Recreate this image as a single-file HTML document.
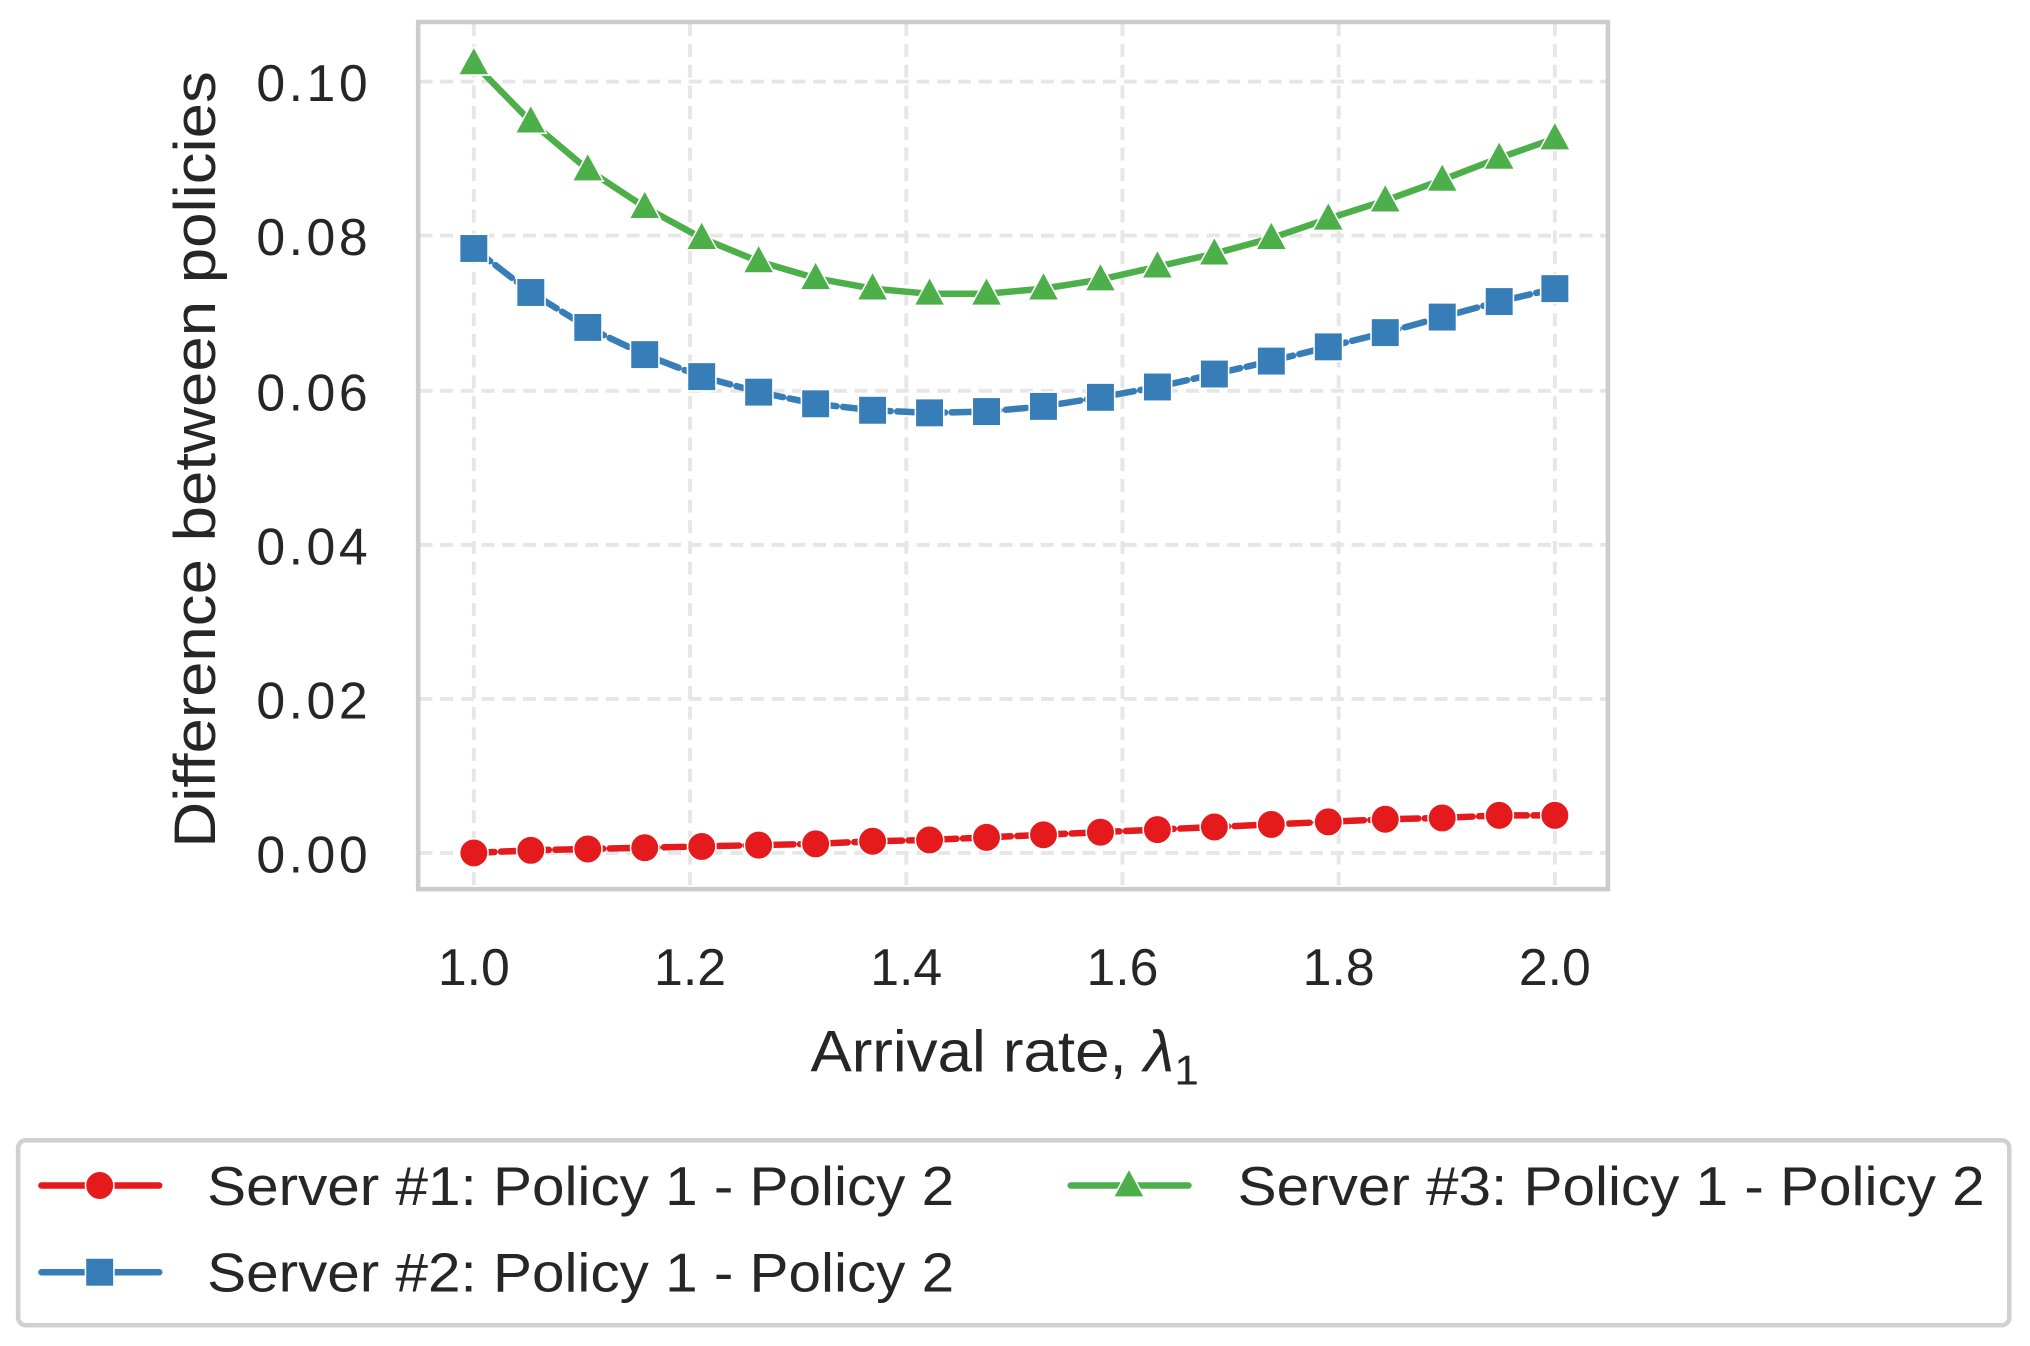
<!DOCTYPE html>
<html><head><meta charset="utf-8"><style>html,body{margin:0;padding:0;background:#fff}svg{display:block}</style></head>
<body>
<svg width="2030" height="1346" viewBox="0 0 1568 1040" preserveAspectRatio="none" xmlns="http://www.w3.org/2000/svg" font-family="'Liberation Sans',sans-serif" fill="#262626">
<defs>
<circle id="c" r="11" fill="#e41a1c" stroke="#fff" stroke-width="1.2"/>
<rect id="s" x="-11" y="-11" width="22" height="22" fill="#377eb8" stroke="#fff" stroke-width="1.2"/>
<polygon id="t" points="0,-13 12,9 -12,9" fill="#4daf4a" stroke="#fff" stroke-width="1.2"/>
</defs>
<g stroke="#e6e6e6" stroke-width="3" stroke-dasharray="10,6">
<line x1="366" y1="18" x2="366" y2="686"/><line x1="533" y1="18" x2="533" y2="686"/><line x1="700" y1="18" x2="700" y2="686"/><line x1="867" y1="18" x2="867" y2="686"/><line x1="1034" y1="18" x2="1034" y2="686"/><line x1="1201" y1="18" x2="1201" y2="686"/>
<line x1="324" y1="659" x2="1241" y2="659"/><line x1="324" y1="540" x2="1241" y2="540"/><line x1="324" y1="421" x2="1241" y2="421"/><line x1="324" y1="302" x2="1241" y2="302"/><line x1="324" y1="182" x2="1241" y2="182"/><line x1="324" y1="63" x2="1241" y2="63"/>
</g>
<rect x="323" y="17" width="919" height="670" fill="none" stroke="#cccccc" stroke-width="3.5"/>
<g font-size="40" text-anchor="end">
<text x="284" y="674" textLength="86">0.00</text><text x="284" y="555" textLength="86">0.02</text><text x="284" y="436" textLength="86">0.04</text><text x="284" y="317" textLength="86">0.06</text><text x="284" y="197" textLength="86">0.08</text><text x="284" y="78" textLength="86">0.10</text>
</g>
<g font-size="40" text-anchor="middle">
<text x="366" y="761">1.0</text><text x="533" y="761">1.2</text><text x="700" y="761">1.4</text><text x="867" y="761">1.6</text><text x="1034" y="761">1.8</text><text x="1201" y="761">2.0</text>
</g>
<text x="626" y="828" font-size="45" textLength="300" lengthAdjust="spacingAndGlyphs">Arrival rate, <tspan font-style="italic">λ</tspan><tspan font-size="32" dy="10">1</tspan></text>
<text transform="translate(166,655) rotate(-90)" font-size="45" textLength="600" lengthAdjust="spacingAndGlyphs">Difference between policies</text>
<g fill="none" stroke-width="5" stroke-linecap="round">
<polyline stroke="#4daf4a" points="366,49 410,94 454,131 498,160 542,184 586,202 630,215 674,223 718,227 762,227 806,223 850,216 894,206 938,196 982,184 1026,169 1070,155 1114,139 1158,122 1201,107"/>
<polyline stroke="#377eb8" stroke-dasharray="16,5" points="366,192 410,226 454,253 498,274 542,291 586,303 630,312 674,317 718,319 762,318 806,314 850,307 894,299 938,289 982,279 1026,268 1070,257 1114,245 1158,233 1201,223"/>
<polyline stroke="#e41a1c" stroke-dasharray="16,5" points="366,659 410,657 454,656 498,655 542,654 586,653 630,652 674,650 718,649 762,647 806,645 850,643 894,641 938,639 982,637 1026,635 1070,633 1114,632 1158,630 1201,630"/>
</g>
<g>
<use href="#t" x="366" y="49"/><use href="#t" x="410" y="94"/><use href="#t" x="454" y="131"/><use href="#t" x="498" y="160"/><use href="#t" x="542" y="184"/><use href="#t" x="586" y="202"/><use href="#t" x="630" y="215"/><use href="#t" x="674" y="223"/><use href="#t" x="718" y="227"/><use href="#t" x="762" y="227"/><use href="#t" x="806" y="223"/><use href="#t" x="850" y="216"/><use href="#t" x="894" y="206"/><use href="#t" x="938" y="196"/><use href="#t" x="982" y="184"/><use href="#t" x="1026" y="169"/><use href="#t" x="1070" y="155"/><use href="#t" x="1114" y="139"/><use href="#t" x="1158" y="122"/><use href="#t" x="1201" y="107"/>
<use href="#s" x="366" y="192"/><use href="#s" x="410" y="226"/><use href="#s" x="454" y="253"/><use href="#s" x="498" y="274"/><use href="#s" x="542" y="291"/><use href="#s" x="586" y="303"/><use href="#s" x="630" y="312"/><use href="#s" x="674" y="317"/><use href="#s" x="718" y="319"/><use href="#s" x="762" y="318"/><use href="#s" x="806" y="314"/><use href="#s" x="850" y="307"/><use href="#s" x="894" y="299"/><use href="#s" x="938" y="289"/><use href="#s" x="982" y="279"/><use href="#s" x="1026" y="268"/><use href="#s" x="1070" y="257"/><use href="#s" x="1114" y="245"/><use href="#s" x="1158" y="233"/><use href="#s" x="1201" y="223"/>
<use href="#c" x="366" y="659"/><use href="#c" x="410" y="657"/><use href="#c" x="454" y="656"/><use href="#c" x="498" y="655"/><use href="#c" x="542" y="654"/><use href="#c" x="586" y="653"/><use href="#c" x="630" y="652"/><use href="#c" x="674" y="650"/><use href="#c" x="718" y="649"/><use href="#c" x="762" y="647"/><use href="#c" x="806" y="645"/><use href="#c" x="850" y="643"/><use href="#c" x="894" y="641"/><use href="#c" x="938" y="639"/><use href="#c" x="982" y="637"/><use href="#c" x="1026" y="635"/><use href="#c" x="1070" y="633"/><use href="#c" x="1114" y="632"/><use href="#c" x="1158" y="630"/><use href="#c" x="1201" y="630"/>
</g>
<rect x="14" y="881" width="1538" height="143" rx="6" fill="#fff" stroke="#d0d0d0" stroke-width="3.5"/>
<g stroke-width="5" stroke-linecap="round">
<line x1="32" y1="916" x2="123" y2="916" stroke="#e41a1c"/>
<line x1="32" y1="983" x2="123" y2="983" stroke="#377eb8"/>
<line x1="827" y1="916" x2="918" y2="916" stroke="#4daf4a"/>
</g>
<use href="#c" x="77" y="916"/><use href="#s" x="77" y="983"/><use href="#t" x="872" y="916"/>
<g font-size="42">
<text x="160" y="931" textLength="577" lengthAdjust="spacingAndGlyphs">Server #1: Policy 1 - Policy 2</text>
<text x="160" y="998" textLength="577" lengthAdjust="spacingAndGlyphs">Server #2: Policy 1 - Policy 2</text>
<text x="956" y="931" textLength="577" lengthAdjust="spacingAndGlyphs">Server #3: Policy 1 - Policy 2</text>
</g>
</svg>
</body></html>
